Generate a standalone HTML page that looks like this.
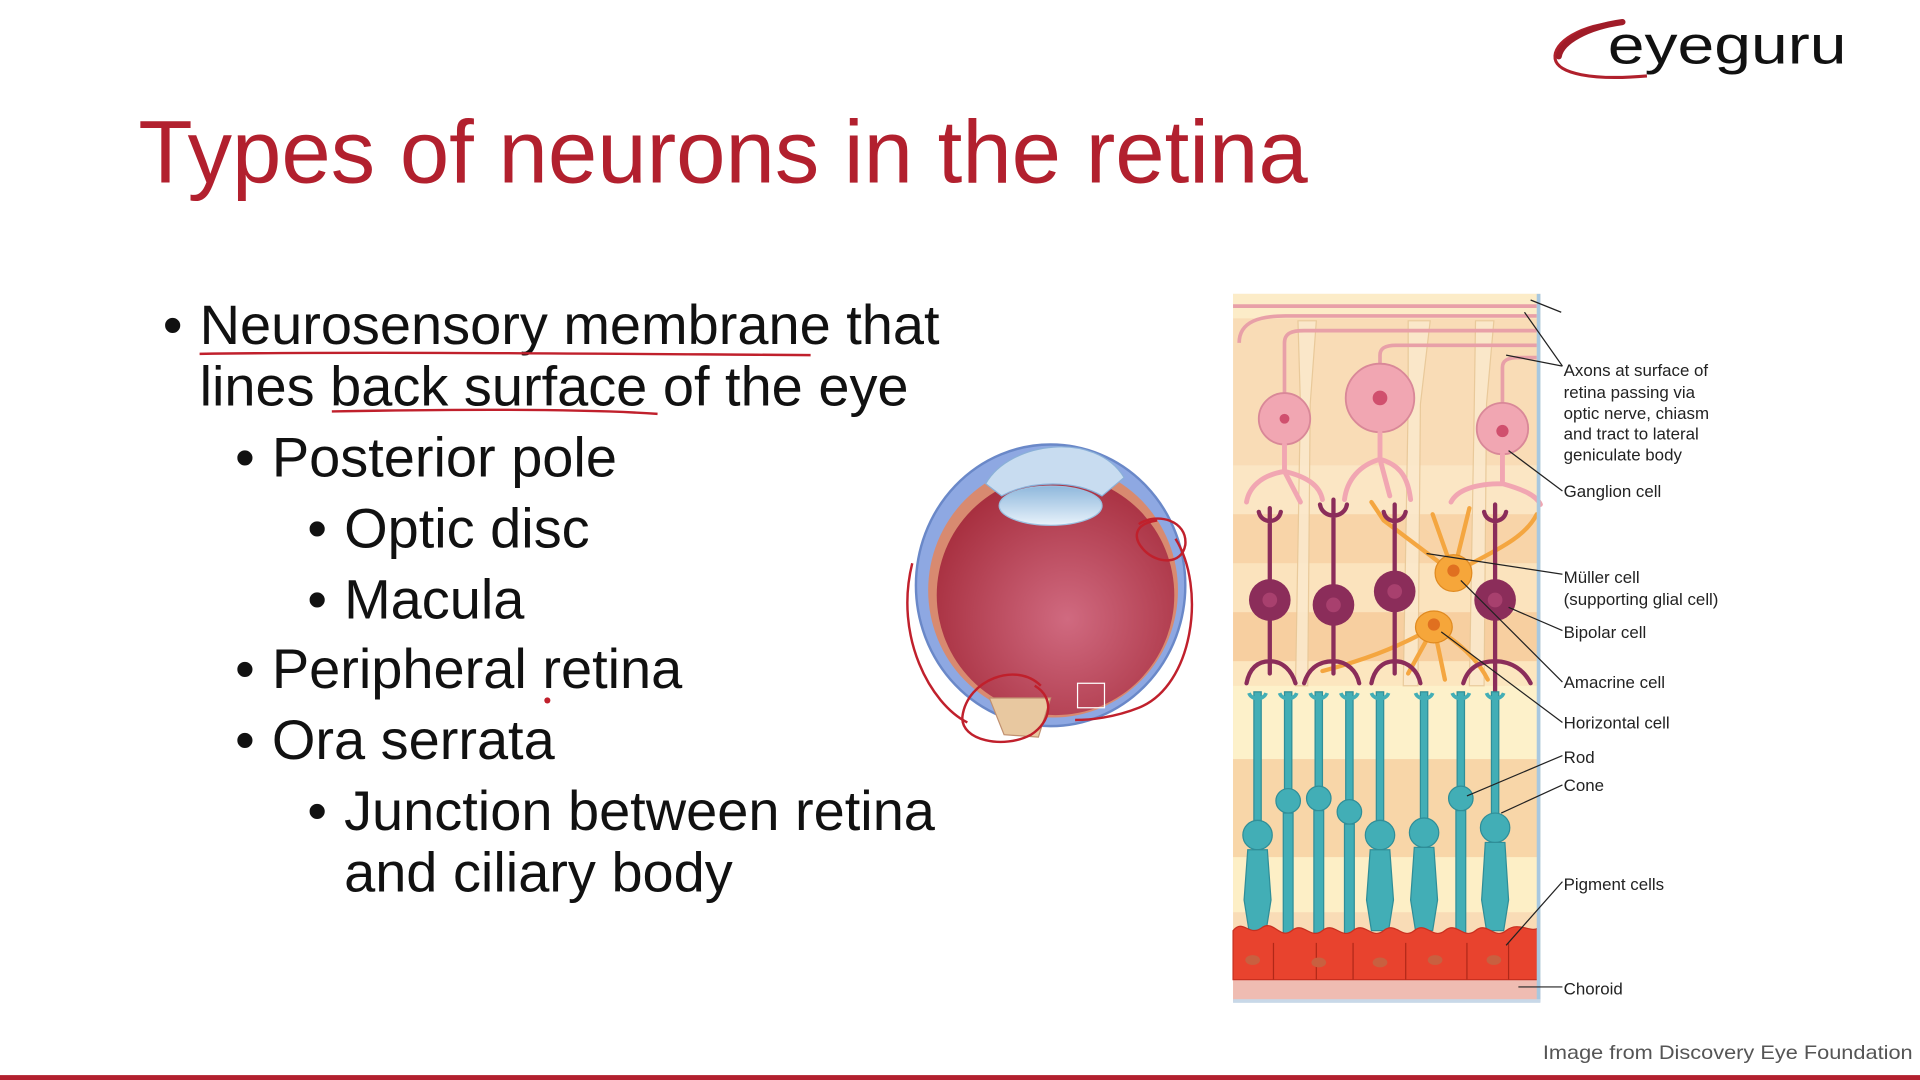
<!DOCTYPE html>
<html><head><meta charset="utf-8">
<style>
html,body{margin:0;padding:0;background:#fff;width:1920px;height:1080px;overflow:hidden}
svg{display:block}
text{font-family:"Liberation Sans",Arial,sans-serif}
</style></head>
<body>
<svg width="1920" height="1080" viewBox="0 0 1568 882" xmlns="http://www.w3.org/2000/svg">
<rect width="1568" height="882" fill="#fff"/>

<!-- logo -->
<path d="M1325 18 C1290 20 1268 35 1270 48 C1272 60 1300 66 1345 62" fill="none" stroke="#b0202c" stroke-width="2.5"/>
<path d="M1325 18 C1296 22 1275 34 1273 46" fill="none" stroke="#a01c28" stroke-width="5" stroke-linecap="round"/>
<text x="1313" y="52" font-size="44" fill="#111" textLength="195" lengthAdjust="spacingAndGlyphs">eyeguru</text>

<!-- title -->
<text x="113" y="149" font-size="72.5" fill="#b2202e" textLength="955" lengthAdjust="spacingAndGlyphs">Types of neurons in the retina</text>

<!-- bullets -->
<g font-size="45.7" fill="#111">
<text x="133" y="281">•</text><text x="163" y="281">Neurosensory membrane that</text>
<text x="163" y="331">lines back surface of the eye</text>
<text x="192" y="389">•</text><text x="222" y="389">Posterior pole</text>
<text x="251" y="447">•</text><text x="281" y="447">Optic disc</text>
<text x="251" y="505">•</text><text x="281" y="505">Macula</text>
<text x="192" y="562">•</text><text x="222" y="562">Peripheral retina</text>
<text x="192" y="620">•</text><text x="222" y="620">Ora serrata</text>
<text x="251" y="678">•</text><text x="281" y="678">Junction between retina</text>
<text x="281" y="728">and ciliary body</text>
</g>
<path d="M163 289 C300 287 500 289 662 290" fill="none" stroke="#c0202c" stroke-width="2"/>
<path d="M271 336 C380 334 480 334 537 338" fill="none" stroke="#c0202c" stroke-width="2"/>
<circle cx="447" cy="572" r="2.5" fill="#c0202c"/>

<!-- eye -->
<defs>
<radialGradient id="eg" cx="0.55" cy="0.6" r="0.6">
<stop offset="0" stop-color="#d06a80"/><stop offset="1" stop-color="#a83040"/>
</radialGradient>
<linearGradient id="lens" x1="0" y1="0" x2="0" y2="1">
<stop offset="0" stop-color="#8fb8dc"/><stop offset="1" stop-color="#e8f2fb"/>
</linearGradient>
</defs>
<ellipse cx="858" cy="478" rx="110" ry="115" fill="#8ea8e2" stroke="#6a88c8" stroke-width="2"/>
<ellipse cx="860" cy="482" rx="102" ry="104" fill="#d88a70"/>
<ellipse cx="862" cy="486" rx="97" ry="98" fill="url(#eg)"/>
<path d="M805 395 C825 360 895 352 918 390 L900 405 C878 392 842 392 818 405 Z" fill="#c8dcf0" stroke="#8ab0d8"/>
<ellipse cx="858" cy="413" rx="42" ry="16" fill="url(#lens)" stroke="#9cc0e0"/>
<path d="M808 570 L820 600 L848 602 L858 570 Z" fill="#e8c8a0" stroke="#c09070"/>
<rect x="880" y="558" width="22" height="20" fill="none" stroke="#fff" stroke-width="1"/>
<path d="M930 428 C945 418 970 425 968 445 C965 462 945 460 935 450 C925 440 925 428 945 425" fill="none" stroke="#c0202c" stroke-width="2"/>
<path d="M745 460 C730 520 760 575 790 590 M960 440 C985 480 975 560 930 578 C910 586 890 588 878 588" fill="none" stroke="#c0202c" stroke-width="2"/>
<path d="M850 560 C830 540 790 555 786 585 C784 605 820 612 842 600 C858 590 862 570 845 560" fill="none" stroke="#c0202c" stroke-width="2"/>

<!-- retina diagram -->
<g>
<rect x="1007" y="240" width="251" height="578" fill="#f9dcb6"/>
<rect x="1007" y="240" width="251" height="20" fill="#fcecc8"/>
<rect x="1007" y="380" width="251" height="40" fill="#fbe6c4"/>
<rect x="1007" y="420" width="251" height="40" fill="#f8d4a8"/>
<rect x="1007" y="460" width="251" height="40" fill="#fbe3bd"/>
<rect x="1007" y="500" width="251" height="40" fill="#f7cfa0"/>
<rect x="1007" y="540" width="251" height="20" fill="#fce6bf"/>
<rect x="1007" y="560" width="251" height="60" fill="#fdf1ca"/>
<rect x="1007" y="620" width="251" height="80" fill="#f8d6a8"/>
<rect x="1007" y="700" width="251" height="45" fill="#fdefc6"/>
<rect x="1007" y="798" width="251" height="20" fill="#efbcb2"/>
<g fill="#fbe9cc" stroke="#e8c898" stroke-width="1" opacity="0.9">
<path d="M1060 262 L1075 262 L1070 330 L1068 560 L1058 560 L1062 330 Z"/>
<path d="M1150 262 L1168 262 L1160 330 L1158 560 L1146 560 L1150 330 Z"/>
<path d="M1205 262 L1220 262 L1214 330 L1212 560 L1200 560 L1204 330 Z"/>
</g>
<g fill="none" stroke="#e8a0a8" stroke-width="3">
<path d="M1012 280 C1012 262 1030 258 1050 258 L1255 258"/>
<path d="M1049 322 L1049 280 C1049 272 1055 270 1065 270 L1255 270"/>
<path d="M1127 298 L1127 290 C1127 284 1132 282 1140 282 L1255 282"/>
<path d="M1227 330 L1227 300 C1227 294 1232 292 1240 292 L1255 292"/>
<path d="M1007 250 L1255 250"/>
</g>
<g fill="#f1a6b2" stroke="#d98898" stroke-width="1.5">
<circle cx="1049" cy="342" r="21"/><circle cx="1127" cy="325" r="28"/><circle cx="1227" cy="350" r="21"/>
</g>
<g fill="#d0506e"><circle cx="1049" cy="342" r="4"/><circle cx="1127" cy="325" r="6"/><circle cx="1227" cy="352" r="5"/></g>
<g fill="none" stroke="#f1a6b2" stroke-width="4" stroke-linecap="round">
<path d="M1049 363 L1049 385 M1049 385 C1030 388 1020 398 1018 410 M1049 385 L1062 410 M1049 385 C1070 390 1078 398 1080 408"/>
<path d="M1127 353 L1127 375 M1127 375 C1110 380 1100 392 1098 408 M1127 375 L1135 405 M1127 375 C1145 380 1150 392 1152 408"/>
<path d="M1227 371 L1227 395 M1227 395 C1205 395 1190 400 1185 410 M1227 395 C1245 400 1255 405 1258 412"/>
</g>
<g fill="none" stroke="#f4a640" stroke-width="3.5" stroke-linecap="round">
<path d="M1187 468 L1170 420 M1187 468 L1130 425 L1120 410 M1187 468 L1200 415 M1187 468 C1220 450 1245 440 1255 420"/>
<path d="M1171 512 C1140 530 1110 540 1080 548 M1171 512 L1150 550 M1171 512 L1180 555 M1171 512 C1200 530 1210 545 1215 555"/>
</g>
<circle cx="1187" cy="468" r="15" fill="#f6a63a" stroke="#e08a20"/>
<circle cx="1187" cy="466" r="5" fill="#e07020"/>
<ellipse cx="1171" cy="512" rx="15" ry="13" fill="#f6a63a" stroke="#e08a20"/>
<circle cx="1171" cy="510" r="5" fill="#e07020"/>
<g fill="none" stroke="#8b2d5a" stroke-width="3.5" stroke-linecap="round">
<path d="M1037 415 L1037 550 M1028 418 C1030 428 1044 428 1046 418 M1037 540 C1025 540 1020 548 1018 558 M1037 540 C1048 540 1055 548 1058 558"/>
<path d="M1089 408 L1089 550 M1078 412 C1080 424 1098 424 1100 412 M1089 540 C1075 540 1068 548 1065 558 M1089 540 C1100 540 1108 548 1110 558"/>
<path d="M1139 412 L1139 550 M1130 418 C1132 428 1146 428 1148 418 M1139 540 C1128 540 1122 548 1120 558 M1139 540 C1150 540 1158 548 1160 558"/>
<path d="M1221 412 L1221 565 M1212 418 C1214 428 1228 428 1230 418 M1221 540 C1205 540 1198 548 1195 558 M1221 540 C1235 540 1245 548 1250 558"/>
</g>
<g fill="#8b2d5a"><circle cx="1037" cy="490" r="17"/><circle cx="1089" cy="494" r="17"/><circle cx="1139" cy="483" r="17"/><circle cx="1221" cy="490" r="17"/></g>
<g fill="#a8406e"><circle cx="1037" cy="490" r="6"/><circle cx="1089" cy="494" r="6"/><circle cx="1139" cy="483" r="6"/><circle cx="1221" cy="490" r="6"/></g>
<g stroke="#2f8e98" stroke-width="1" fill="#42aeb6">
<rect x="1024" y="565" width="6" height="105"/><rect x="1049" y="565" width="6" height="80"/>
<rect x="1074" y="565" width="6" height="80"/><rect x="1099" y="565" width="6" height="90"/>
<rect x="1124" y="565" width="6" height="105"/><rect x="1160" y="565" width="6" height="105"/>
<rect x="1190" y="565" width="6" height="80"/><rect x="1218" y="565" width="6" height="105"/>
<circle cx="1052" cy="654" r="10"/><circle cx="1077" cy="652" r="10"/><circle cx="1102" cy="663" r="10"/><circle cx="1193" cy="652" r="10"/>
<circle cx="1027" cy="682" r="12"/><circle cx="1127" cy="682" r="12"/><circle cx="1163" cy="680" r="12"/><circle cx="1221" cy="676" r="12"/>
<path d="M1019 694 L1035 694 L1038 735 L1034 760 L1020 760 L1016 735 Z"/>
<path d="M1119 694 L1135 694 L1138 735 L1134 760 L1120 760 L1116 735 Z"/>
<path d="M1155 692 L1171 692 L1174 735 L1170 760 L1156 760 L1152 735 Z"/>
<path d="M1213 688 L1229 688 L1232 735 L1228 760 L1214 760 L1210 735 Z"/>
<rect x="1048" y="664" width="8" height="100"/><rect x="1073" y="662" width="8" height="100"/>
<rect x="1098" y="673" width="8" height="90"/><rect x="1189" y="662" width="8" height="100"/>
</g>
<g fill="none" stroke="#42aeb6" stroke-width="3">
<path d="M1020 566 C1022 572 1032 572 1034 566 M1045 566 C1047 572 1057 572 1059 566 M1070 566 C1072 572 1082 572 1084 566 M1095 566 C1097 572 1107 572 1109 566 M1120 566 C1122 572 1132 572 1134 566 M1156 566 C1158 572 1168 572 1170 566 M1186 566 C1188 572 1198 572 1200 566 M1214 566 C1216 572 1226 572 1228 566"/>
</g>
<path d="M1007 760 C1015 750 1020 765 1030 758 C1040 750 1045 768 1055 760 C1065 752 1070 768 1080 760 C1090 752 1095 768 1105 760 C1115 752 1120 768 1130 760 C1140 752 1145 768 1155 760 C1165 752 1170 768 1180 760 C1190 752 1195 768 1205 760 C1215 752 1220 768 1230 760 C1240 752 1250 762 1256 758 L1256 800 L1007 800 Z" fill="#e8432e" stroke="#c83020"/>
<g stroke="#b02818" stroke-width="1"><path d="M1040 770 L1040 800 M1075 770 L1075 800 M1105 770 L1105 800 M1148 770 L1148 800 M1198 770 L1198 800 M1232 770 L1232 800"/></g>
<g fill="#c86040"><ellipse cx="1023" cy="784" rx="6" ry="4"/><ellipse cx="1077" cy="786" rx="6" ry="4"/><ellipse cx="1127" cy="786" rx="6" ry="4"/><ellipse cx="1172" cy="784" rx="6" ry="4"/><ellipse cx="1220" cy="784" rx="6" ry="4"/></g>
<rect x="1255" y="240" width="3" height="578" fill="#a8c8e0"/>
<rect x="1007" y="816" width="251" height="3" fill="#c8d8e8"/>
</g>
<g stroke="#222" stroke-width="1" fill="none">
<path d="M1250 245 L1275 255 M1245 255 L1276 299 M1230 290 L1276 299"/>
<path d="M1232 368 L1276 401"/>
<path d="M1165 452 L1276 469"/>
<path d="M1232 496 L1276 515"/>
<path d="M1193 474 L1276 557"/>
<path d="M1177 516 L1276 590"/>
<path d="M1198 650 L1276 617"/>
<path d="M1226 664 L1276 641"/>
<path d="M1230 772 L1276 720"/>
<path d="M1240 806 L1276 806"/>
</g>
<g font-size="13.8" fill="#222">
<text x="1277" y="307">Axons at surface of</text>
<text x="1277" y="325">retina passing via</text>
<text x="1277" y="342">optic nerve, chiasm</text>
<text x="1277" y="359">and tract to lateral</text>
<text x="1277" y="376">geniculate body</text>
<text x="1277" y="406">Ganglion cell</text>
<text x="1277" y="476">Müller cell</text>
<text x="1277" y="494">(supporting glial cell)</text>
<text x="1277" y="521">Bipolar cell</text>
<text x="1277" y="562">Amacrine cell</text>
<text x="1277" y="595">Horizontal cell</text>
<text x="1277" y="623">Rod</text>
<text x="1277" y="646">Cone</text>
<text x="1277" y="727">Pigment cells</text>
<text x="1277" y="812">Choroid</text>
</g>

<text x="1260" y="865" font-size="16" fill="#555" textLength="302" lengthAdjust="spacingAndGlyphs">Image from Discovery Eye Foundation</text>
<rect x="0" y="878" width="1568" height="4" fill="#b2202e"/>
</svg>
</body></html>
